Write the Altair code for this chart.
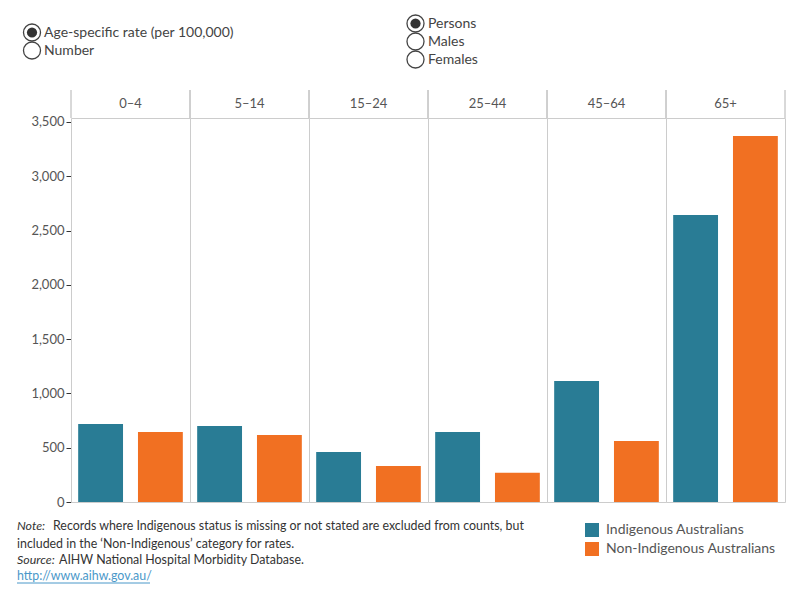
import altair as alt
import pandas as pd

# ---- data ----
age_groups = ["0–4", "5–14", "15–24", "25–44", "45–64", "65+"]
populations = ["Indigenous Australians", "Non-Indigenous Australians"]
indigenous = [718, 700, 460, 645, 1114, 2643]
non_indigenous = [645, 617, 331, 270, 562, 3370]

rate_options = ["Age-specific rate (per 100,000)", "Number"]
sex_options = ["Persons", "Males", "Females"]

note_label = "Note:"
note_line1 = "Records where Indigenous status is missing or not stated are excluded from counts, but"
note_line2 = "included in the \u2018Non-Indigenous\u2019 category for rates."
source_label = "Source:"
source_text = "AIHW National Hospital Morbidity Database."
link_text = "http://www.aihw.gov.au/"

TEAL = "#297C95"
ORANGE = "#F17022"
FONT = "Lato"
CELL_W = 119
CELL_H = 384

rows = []
for i, a in enumerate(age_groups):
    rows.append({"age": a, "population": populations[0], "rate": indigenous[i]})
    rows.append({"age": a, "population": populations[1], "rate": non_indigenous[i]})
df = pd.DataFrame(rows)

# ---- controls (radio buttons) ----
rate_df = pd.DataFrame({"label": rate_options, "selected": [True, False]})
sex_df = pd.DataFrame({"label": sex_options, "selected": [True, False, False]})


def radio_group(data, x_circle, x_text, y_range):
    yenc = alt.Y("label:N", sort=list(data["label"]), axis=None,
                 scale=alt.Scale(type="point", range=y_range, padding=0))
    base = alt.Chart(data)
    ring = base.mark_point(shape="circle", size=290, filled=True, fill="white",
                           stroke="#444444", strokeWidth=1.3, opacity=1).encode(
        x=alt.value(x_circle), y=yenc)
    dot = base.transform_filter("datum.selected").mark_point(
        shape="circle", size=105, filled=True, color="#333333", opacity=1).encode(
        x=alt.value(x_circle), y=yenc)
    txt = base.mark_text(align="left", baseline="middle", fontSize=14,
                         color="#444444", font=FONT).encode(
        x=alt.value(x_text), y=yenc, text="label:N")
    return alt.layer(ring, dot, txt)


controls = alt.layer(
    radio_group(rate_df, -39, -27, [18.5, 36.5]),
    radio_group(sex_df, 344.5, 357, [9.5, 45.5]),
).resolve_scale(y="independent").properties(
    width=CELL_W * len(age_groups), height=74,
    view=alt.ViewBackground(stroke="transparent"))

# ---- main faceted bars ----
bars = alt.Chart().mark_bar().encode(
    x=alt.X("population:N", sort=populations, axis=None,
            scale=alt.Scale(paddingInner=0.25, paddingOuter=0.12)),
    y=alt.Y("rate:Q", title=None,
            scale=alt.Scale(domain=[0, 3536], nice=False),
            axis=alt.Axis(values=[0, 500, 1000, 1500, 2000, 2500, 3000, 3500],
                          format=",.0f", domain=False, grid=False, ticks=True,
                          tickSize=5, tickColor="#333333", labelPadding=2,
                          labelFontSize=13, labelColor="#555555", labelFont=FONT)),
    color=alt.Color("population:N", title=None,
                    scale=alt.Scale(domain=populations, range=[TEAL, ORANGE]),
                    legend=alt.Legend(orient="none", legendX=514, legendY=509,
                                      symbolType="square", symbolSize=196,
                                      symbolStrokeWidth=0, labelFontSize=14,
                                      labelLimit=400,
                                      labelColor="#555555", labelFont=FONT,
                                      labelOffset=7, rowPadding=5, padding=0)),
)

header_text = alt.Chart().transform_filter(
    alt.datum.population == populations[0]
).mark_text(fontSize=13, color="#555555", font=FONT, baseline="middle").encode(
    x=alt.value(CELL_W / 2), y=alt.value(-14), text="age:N")

sep_left = alt.Chart().mark_rule(color="#cccccc", strokeWidth=1).encode(
    x=alt.value(0), y=alt.value(-28), y2=alt.value(0))
sep_right = alt.Chart().mark_rule(color="#cccccc", strokeWidth=1).encode(
    x=alt.value(CELL_W), y=alt.value(-28), y2=alt.value(0))

main = alt.layer(bars, header_text, sep_left, sep_right, data=df).properties(
    width=CELL_W, height=CELL_H
).facet(
    column=alt.Column("age:N", sort=age_groups, title=None,
                      header=alt.Header(labels=False)),
    spacing=0,
    bounds="flush",
)

# ---- notes ----
nd = alt.Chart(pd.DataFrame({"k": [0]}))


def note(text, x, y, italic=False, color="#333333"):
    return nd.mark_text(align="left", baseline="middle", fontSize=12.4, font=FONT,
                        fontStyle="italic" if italic else "normal",
                        color=color).encode(
        x=alt.value(x), y=alt.value(y), text=alt.value(text))


notes = alt.layer(
    note(note_label, -54, 16, italic=True),
    note(note_line1, -18, 16),
    note(note_line2, -54, 34),
    note(source_label, -54, 50, italic=True),
    note(source_text, -12, 50),
    note(link_text, -54, 66, color="#4A98C9"),
    nd.mark_rule(color="#4A98C9", strokeWidth=1).encode(
        x=alt.value(-54), x2=alt.value(79), y=alt.value(73)),
).properties(width=CELL_W * len(age_groups), height=77,
             view=alt.ViewBackground(stroke="transparent"))

chart = alt.vconcat(controls, main, notes, spacing=0).properties(
    padding={"left": 8, "top": 3, "right": 4, "bottom": 2}
).configure(font=FONT).configure_view(stroke="#cccccc", strokeWidth=1)

chart.save("out.html", embed_options={"renderer": "svg", "actions": False})
